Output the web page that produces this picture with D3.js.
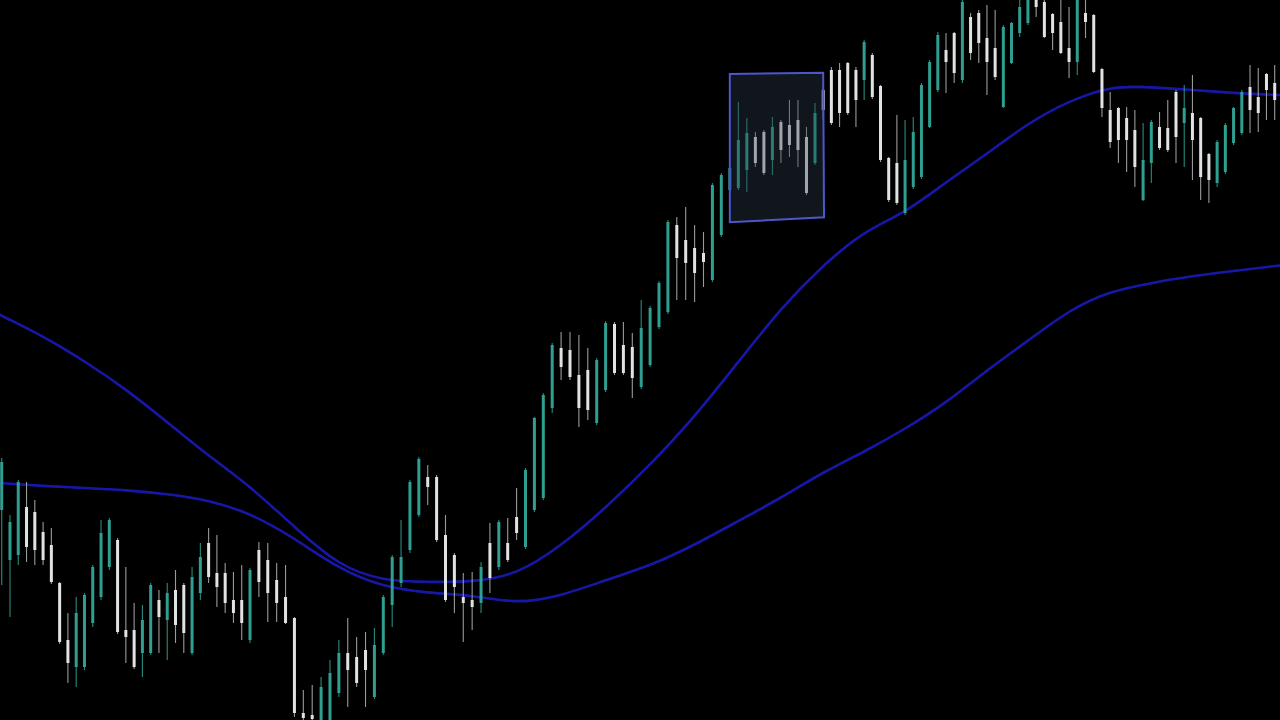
<!DOCTYPE html>
<html>
<head>
<meta charset="utf-8">
<script src="https://cdn.jsdelivr.net/npm/d3@7/dist/d3.min.js"></script>
<style>
  html, body { margin: 0; padding: 0; background: #000; overflow: hidden; }
  svg { display: block; }
</style>
</head>
<body>
<svg id="chart" width="1280" height="720"></svg>
<script>
// ---- DATA (price units, arbitrary) ----
const open  = [210,160,165,213,208,188,175,137,80,53,53,97,123,153,180,90,90,67,67,120,100,130,135,67,127,177,147,147,120,120,80,
  170,160,140,123,102,7,5,0,0,27,67,63,70,23,67,115,137,170,205,243,243,185,165,123,120,117,177,153,177,
  203,173,210,222,312,372,370,345,350,297,330,396,375,373,333,355,393,408,495,480,472,467,440,485,530,
  532,550,583,588,560,598,595,600,583,557,630,
  650,650,657,650,640,665,634,562,557,507,533,543,593,630,670,687,640,703,707,682,672,613,657,687,
  697,720,718,706,698,672,658,707,705,651,610,612,602,590,520,557,593,592,628,597,607,602,566,537,548,577,587,633,623,646,637];
const high  = [262,205,240,238,220,198,192,138,107,123,127,155,200,202,182,153,117,115,137,130,137,150,137,153,177,192,185,157,148,155,152,
  178,177,157,155,103,30,35,43,60,80,102,83,88,92,125,165,200,240,263,255,245,205,167,147,148,158,197,200,202,
  232,252,303,327,377,388,388,385,372,362,399,398,398,387,420,414,439,500,503,513,495,488,537,547,555,
  618,602,588,590,603,600,620,620,593,617,635,
  653,657,658,653,680,667,635,563,605,600,603,637,660,688,687,688,728,707,710,715,710,695,698,723,
  725,725,722,707,720,713,725,720,706,652,628,613,613,610,597,600,608,620,630,635,645,603,567,580,597,613,630,655,652,647,655];
const low   = [135,103,155,158,155,155,136,76,37,33,50,93,120,150,86,57,51,43,65,67,60,77,67,65,120,137,113,107,97,80,77,
  123,98,98,96,3,-2,-2,-2,-2,23,13,33,13,21,65,93,133,167,203,215,178,118,107,78,90,107,127,150,158,
  180,171,208,220,307,340,340,293,300,295,328,345,345,322,331,353,391,406,420,420,418,433,438,483,525,
  530,528,553,545,545,557,563,553,525,555,600,
  595,593,605,593,620,621,558,518,515,505,531,541,592,628,627,637,637,660,657,625,640,612,656,683,
  695,703,682,670,666,642,645,682,647,603,572,557,548,533,519,537,570,568,557,553,540,520,517,533,546,575,585,587,588,600,600];
const close = [258,198,238,173,170,160,138,78,57,107,125,153,187,200,88,83,53,100,135,103,127,95,87,143,163,143,133,117,107,97,150,
  138,127,117,97,7,2,1,33,47,67,50,37,50,75,123,163,163,238,261,233,180,120,133,117,113,153,142,198,160,
  187,250,302,325,375,353,343,312,310,360,397,347,347,342,392,412,437,498,462,457,447,458,535,545,552,
  580,587,557,547,593,570,575,570,527,607,610,
  597,607,607,620,678,623,560,520,517,560,588,635,658,685,658,647,718,667,677,658,643,693,697,713,
  720,713,683,687,667,658,720,698,648,612,578,580,580,553,560,598,572,570,583,612,580,543,540,578,595,612,628,610,607,630,620];

// moving averages, sampled every 5 bars
const maIndex = [-1,0,5,10,15,20,25,30,35,40,45,50,55,60,65,70,75,80,85,90,95,100,105,110,115,120,125,130,135,140,145,150,151];
const maFast  = [409,404,384,359,331,298,264,234,193,154,139,138,138,145,174,212,255,303,358,412,455,489,507,538,566,597,619,634,633,630,627,625,625];
const maSlow  = [237,237,234,232,230,226,220,207,182,151,133,127,125,116,124,140,154,175,199,222,248,268,291,317,350,379,410,429,437,444,449,454,455];

// highlighted consolidation zone (bar index, price) corners
const zoneIndex = [84, 95, 95.1, 84];
const zonePrice = [646, 647.3, 502.7, 497.7];

// ---- CHART ----
const W = 1280, H = 720;
const svg = d3.select('#chart');
svg.append('rect').attr('width', W).attr('height', H).attr('fill', '#000');

// slight camera perspective: piecewise-linear bar spacing
const x = d3.scaleLinear()
  .domain([0, 30, 59, 83, 94, 119, 150])
  .range([1.7, 250, 507.7, 721.3, 815, 1019.7, 1274.7]);
const y = d3.scaleLinear().domain([0, 720]).range([720, 0]);

const defs = svg.append('defs');
const f = defs.append('filter').attr('id', 'soft').attr('x', '-10%').attr('y', '-10%').attr('width', '120%').attr('height', '120%');
f.append('feGaussianBlur').attr('stdDeviation', 0.45);
const g2 = defs.append('filter').attr('id', 'glow').attr('x', '-10%').attr('y', '-10%').attr('width', '120%').attr('height', '120%');
g2.append('feGaussianBlur').attr('stdDeviation', 0.6);

// moving averages
const line = d3.line().curve(d3.curveBasis).x(d => x(d[0])).y(d => y(d[1]));
[maFast, maSlow].forEach(vals => {
  svg.append('path')
    .datum(maIndex.map((ix, k) => [ix, vals[k]]))
    .attr('d', line)
    .attr('fill', 'none')
    .attr('stroke', '#1818a8')
    .attr('stroke-width', 2.6)
    .attr('filter', 'url(#glow)');
});

// candles
const bars = open.map((o, i) => ({ i, o, h: high[i], l: low[i], c: close[i] }));
const UP = '#2f9f91', DOWN = '#e2e2e2';
const cg = svg.append('g').attr('filter', 'url(#soft)');
cg.selectAll('line.wick').data(bars).join('line')
  .attr('class', 'wick')
  .attr('x1', d => x(d.i)).attr('x2', d => x(d.i))
  .attr('y1', d => y(d.h)).attr('y2', d => y(d.l))
  .attr('stroke', d => d.c >= d.o ? '#2a8a80' : '#9a9a9a')
  .attr('stroke-width', 1.1);
cg.selectAll('rect.body').data(bars).join('rect')
  .attr('class', 'body')
  .attr('x', d => x(d.i) - 1.5)
  .attr('width', 3)
  .attr('y', d => y(Math.max(d.o, d.c)))
  .attr('height', d => Math.max(1.5, Math.abs(y(d.o) - y(d.c))))
  .attr('fill', d => d.c >= d.o ? UP : DOWN);

// highlighted zone
svg.append('polygon')
  .attr('points', zoneIndex.map((ix, k) => [x(ix), y(zonePrice[k])].join(',')).join(' '))
  .attr('fill', 'rgba(45,60,75,0.36)')
  .attr('stroke', '#4e56cc')
  .attr('stroke-width', 2);
</script>
</body>
</html>
